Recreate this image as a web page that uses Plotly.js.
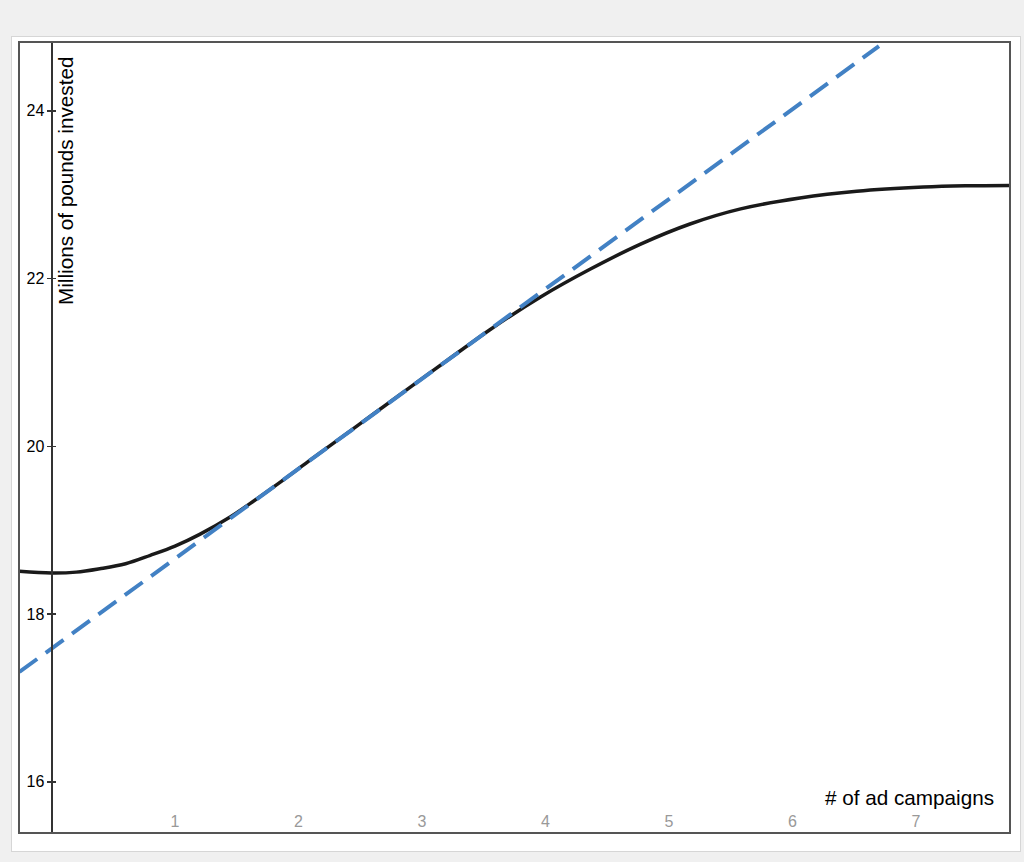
<!DOCTYPE html>
<html>
<head>
<meta charset="utf-8">
<script src="https://cdn.plot.ly/plotly-3.0.1.min.js"></script>
<style>
  html, body { margin: 0; padding: 0; background: #f0f0f0; width: 1024px; height: 862px; overflow: hidden; }
  #card { position: absolute; left: 11px; top: 36px; width: 1008px; height: 814px; border: 1px solid #d6d6d6; background: #ffffff; }
  #chart { width: 1008px; height: 814px; }
</style>
</head>
<body>
<div id="card"><div id="chart"></div></div>
<script>
// Data
const curveX = [-0.26, 0.0, 0.2, 0.39, 0.6, 0.8, 1.0, 1.2, 1.45, 1.61, 1.85, 2.08, 2.5, 2.9, 3.2, 3.55, 3.96, 4.36, 4.77, 5.17, 5.58, 6.06, 6.52, 7.06, 7.4, 7.76];
const curveY = [18.51, 18.49, 18.50, 18.54, 18.60, 18.70, 18.81, 18.95, 19.16, 19.32, 19.57, 19.82, 20.27, 20.70, 21.02, 21.39, 21.78, 22.11, 22.41, 22.65, 22.83, 22.96, 23.04, 23.09, 23.105, 23.11];
const tangentX = [-0.26, 6.70];
const tangentY = [17.31, 24.77];
const xTicks = [1, 2, 3, 4, 5, 6, 7];
const xTickLabels = ['1', '2', '3', '4', '5', '6', '7'];
const yTicks = [16, 18, 20, 22, 24];
const yTickLabels = ['16', '18', '20', '22', '24'];
const xTitle = '# of ad campaigns';
const yTitle = 'Millions of pounds invested';

const xRange = [-0.263, 7.761];
const yRange = [15.39, 24.82];
const axisPos = (0 - xRange[0]) / (xRange[1] - xRange[0]);
const FONT = 'Liberation Sans, Arial, Helvetica, sans-serif';

const traces = [
  {
    x: curveX, y: curveY, type: 'scatter', mode: 'lines',
    line: { color: '#1a1a1a', width: 3.5, shape: 'spline', smoothing: 1 },
    hoverinfo: 'skip', xaxis: 'x', yaxis: 'y'
  },
  {
    x: tangentX, y: tangentY, type: 'scatter', mode: 'lines',
    line: { color: '#4281c4', width: 4, dash: '22px,10.6px' },
    hoverinfo: 'skip', xaxis: 'x', yaxis: 'y2'
  }
];

const yCommon = {
  range: yRange, showgrid: false, zeroline: false,
  anchor: 'free', position: axisPos,
  tickvals: yTicks, ticktext: yTickLabels,
  tickcolor: '#333', ticklen: 4, tickwidth: 1.5
};

const layout = {
  width: 1008, height: 814,
  margin: { l: 7, r: 10, t: 5, b: 18 },
  paper_bgcolor: '#ffffff', plot_bgcolor: '#ffffff',
  showlegend: false,
  font: { family: FONT, color: '#000' },
  xaxis: {
    range: xRange, showgrid: false, zeroline: false, showline: false,
    tickvals: xTicks, ticktext: xTickLabels, ticks: '',
    ticklabelposition: 'inside',
    tickfont: { family: FONT, size: 16, color: '#999999' }
  },
  yaxis: Object.assign({}, yCommon, {
    showline: true, linecolor: '#333', linewidth: 1.5,
    ticks: 'outside',
    tickfont: { family: FONT, size: 16, color: '#000' }
  }),
  yaxis2: Object.assign({}, yCommon, {
    overlaying: 'y', showline: false,
    ticks: 'inside', showticklabels: false
  }),
  shapes: [
    { type: 'rect', xref: 'paper', yref: 'paper', x0: 0, x1: 1, y0: 0, y1: 1,
      line: { color: '#555', width: 2 }, fillcolor: 'rgba(0,0,0,0)', layer: 'above' }
  ],
  annotations: [
    { text: yTitle, textangle: -90, xref: 'x', x: 0, xanchor: 'left', xshift: 0,
      yref: 'paper', y: 1, yanchor: 'top', yshift: -13, showarrow: false,
      font: { family: FONT, size: 20.7, color: '#000' } },
    { text: xTitle, xref: 'paper', x: 1, xanchor: 'right', xshift: -14,
      yref: 'paper', y: 0, yanchor: 'middle', yshift: 36, showarrow: false,
      font: { family: FONT, size: 20.7, color: '#000' } }
  ]
};

Plotly.newPlot('chart', traces, layout, { staticPlot: true, displayModeBar: false });
</script>
</body>
</html>
